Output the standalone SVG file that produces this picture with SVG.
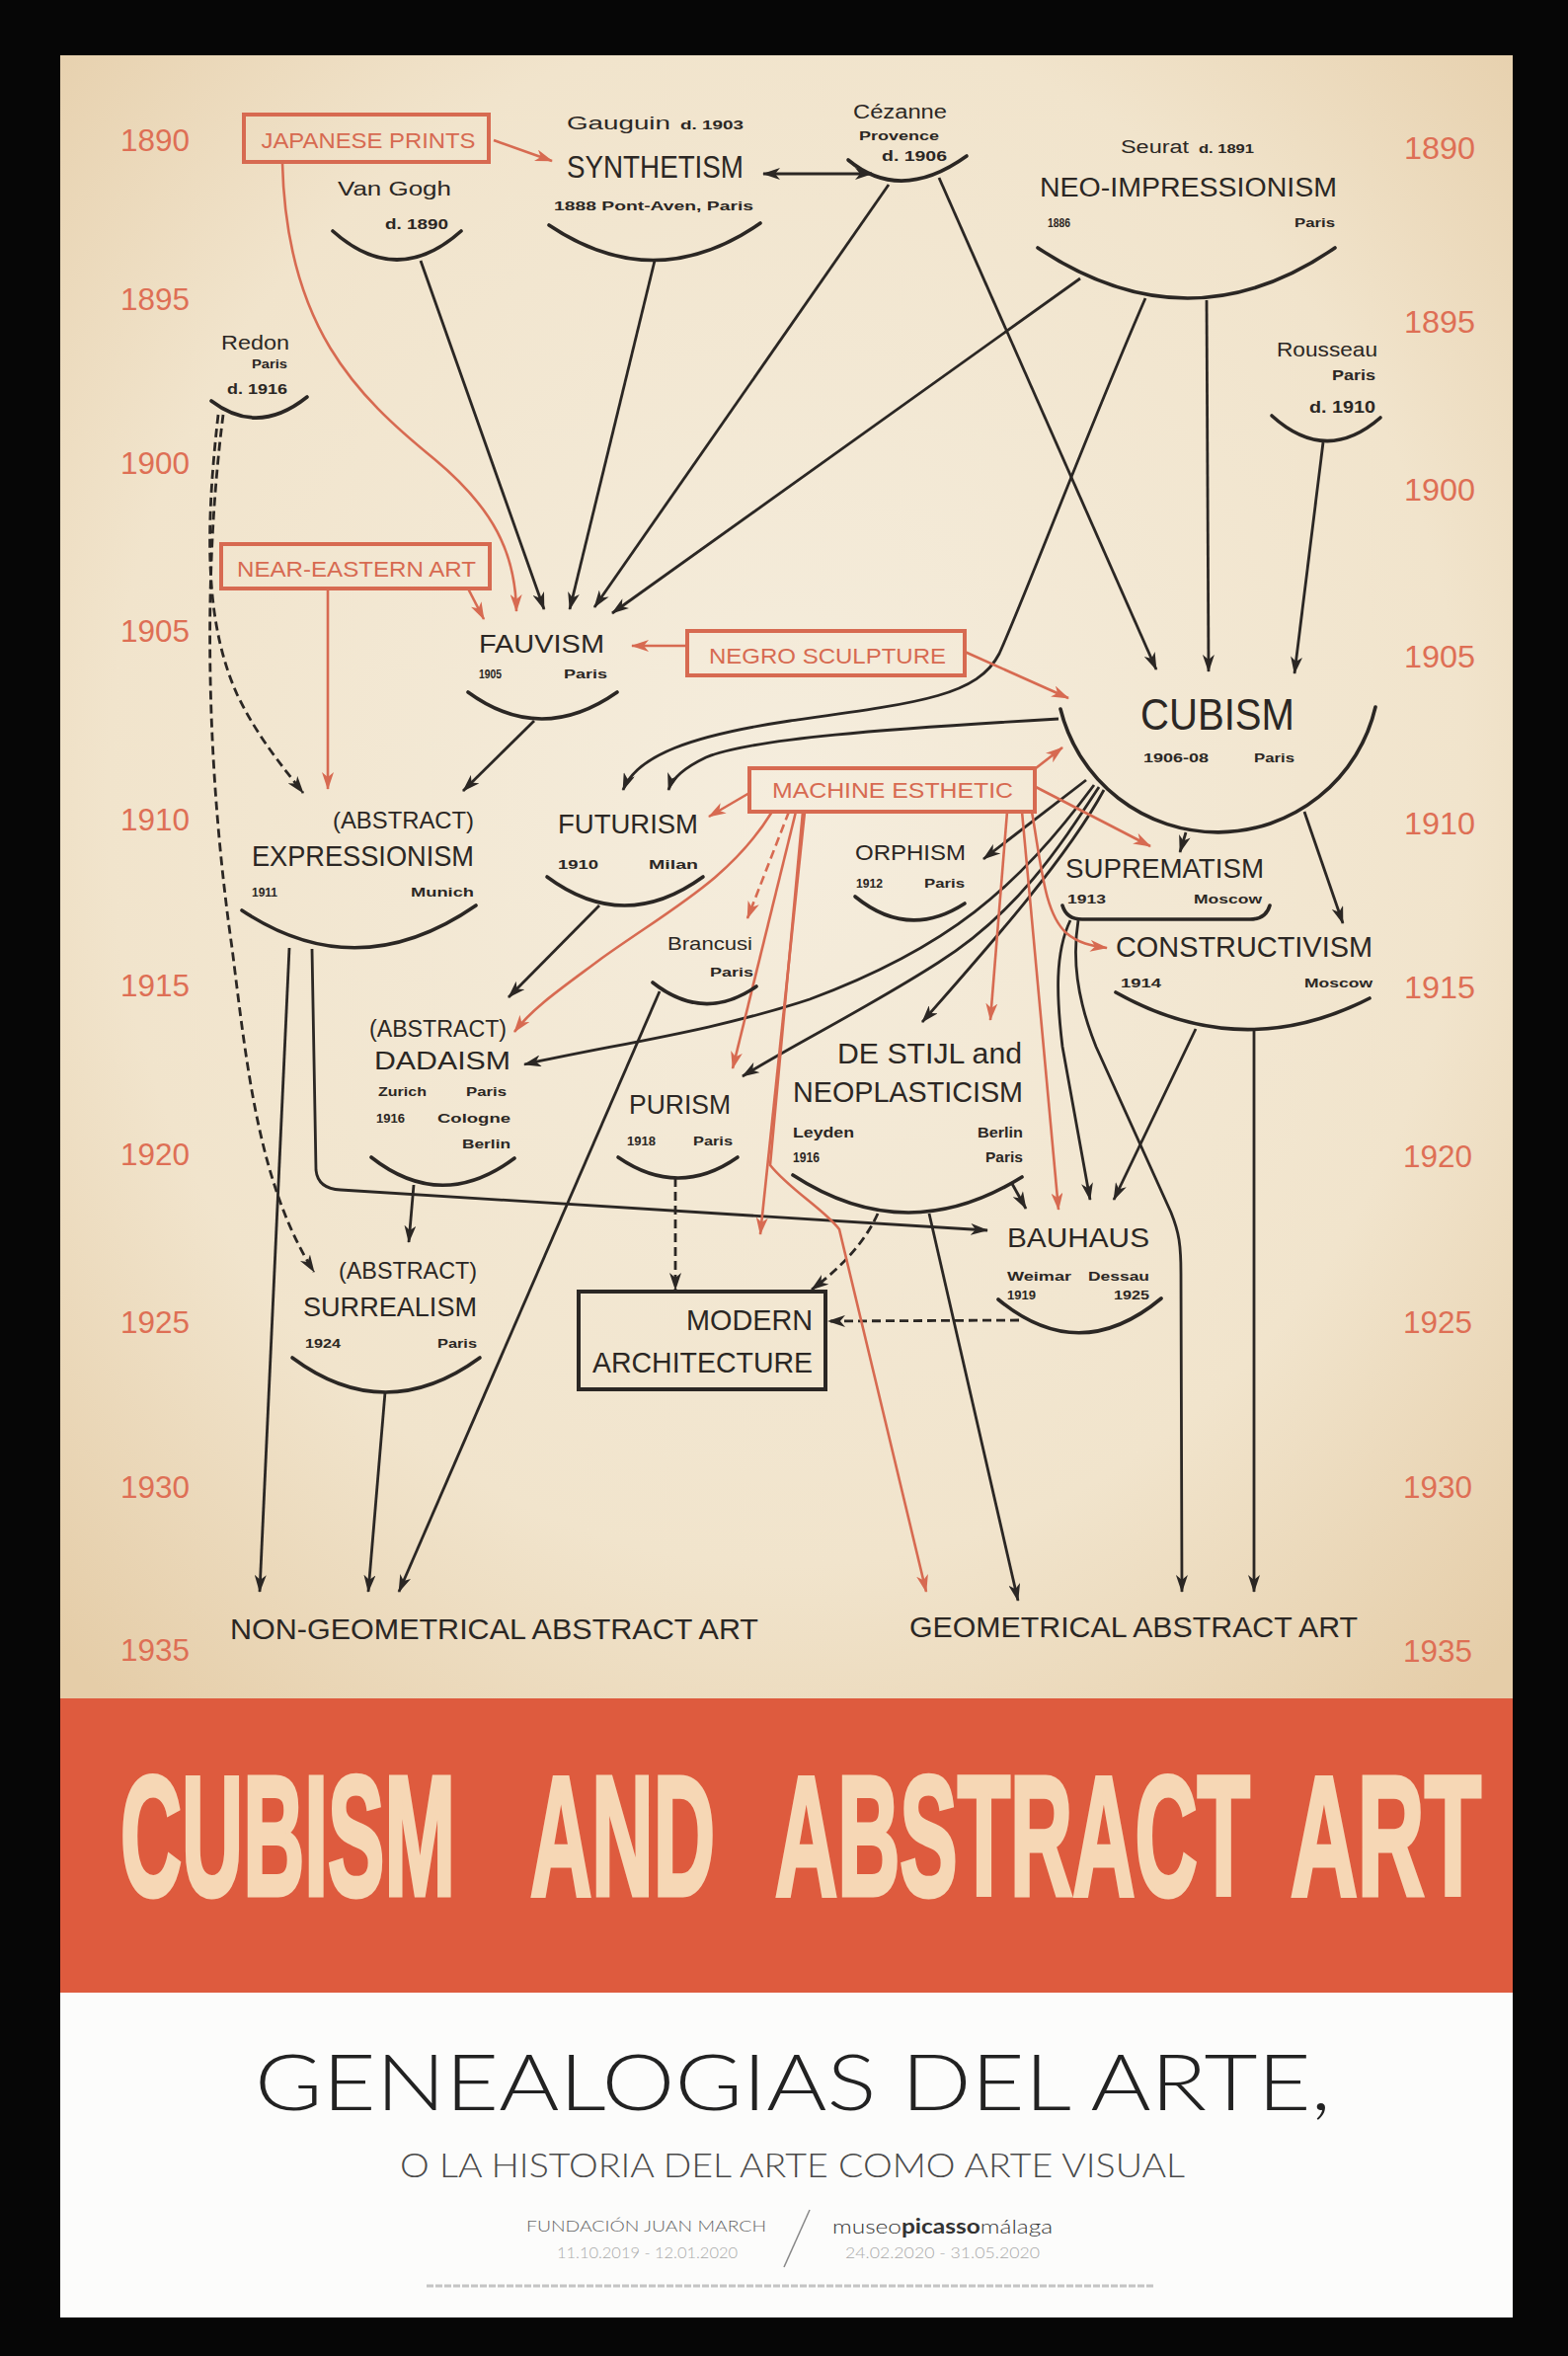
<svg xmlns="http://www.w3.org/2000/svg" width="1588" height="2386" viewBox="0 0 1588 2386">
<defs>
<radialGradient id="paper" cx="50%" cy="45%" r="72%">
<stop offset="0" stop-color="#f5eddd"/>
<stop offset="0.65" stop-color="#f1e4cc"/>
<stop offset="1" stop-color="#e5cda8"/>
</radialGradient>
<marker id="ab" viewBox="0 0 18 12" refX="17" refY="6" markerWidth="18" markerHeight="12" markerUnits="userSpaceOnUse" orient="auto-start-reverse"><path d="M0,0 L18,6 L0,12 L5,6 z" fill="#2b2724"/></marker>
<marker id="ar" viewBox="0 0 18 12" refX="17" refY="6" markerWidth="18" markerHeight="12" markerUnits="userSpaceOnUse" orient="auto-start-reverse"><path d="M0,0 L18,6 L0,12 L5,6 z" fill="#d76a51"/></marker>
</defs>
<style>
.ln{fill:none;stroke:#2b2724;stroke-width:2.8;marker-end:url(#ab)}
.rd{fill:none;stroke:#d76a51;stroke-width:2.6;marker-end:url(#ar)}
.dash{stroke-dasharray:9 5}
.arc{fill:none;stroke:#2b2724;stroke-width:3.6;stroke-linecap:round}
.t{font-family:"Liberation Sans",Arial,sans-serif;fill:#2b2724}
.s{font-family:"Liberation Sans",Arial,sans-serif;fill:#2b2724;font-weight:700}
.yr{font-family:"Liberation Sans",Arial,sans-serif;fill:#de6f55;font-size:32px;text-anchor:middle}
.rbox{fill:none;stroke:#d76a51;stroke-width:4}
.rt{font-family:"Liberation Sans",Arial,sans-serif;fill:#d76a51;font-size:22px;text-anchor:middle}
.ttl{font-family:"Liberation Sans",Arial,sans-serif;font-weight:700;font-size:86px;fill:#f6d7b5;stroke:#f6d7b5;stroke-width:2.5}
.sub{font-family:Lato,"Open Sans","Liberation Sans",sans-serif;font-weight:300}
</style>

<rect width="1588" height="2386" fill="#060606"/>
<rect x="61" y="56" width="1471" height="1666" fill="url(#paper)"/>
<rect x="61" y="1720" width="1471" height="298" fill="#de5b3e"/>
<rect x="61" y="2018" width="1471" height="329" fill="#fcfcfb"/>

<g id="years">
<text class="yr" x="157" y="153" textLength="70" lengthAdjust="spacingAndGlyphs">1890</text>
<text class="yr" x="157" y="314" textLength="70" lengthAdjust="spacingAndGlyphs">1895</text>
<text class="yr" x="157" y="480" textLength="70" lengthAdjust="spacingAndGlyphs">1900</text>
<text class="yr" x="157" y="650" textLength="70" lengthAdjust="spacingAndGlyphs">1905</text>
<text class="yr" x="157" y="841" textLength="70" lengthAdjust="spacingAndGlyphs">1910</text>
<text class="yr" x="157" y="1009" textLength="70" lengthAdjust="spacingAndGlyphs">1915</text>
<text class="yr" x="157" y="1180" textLength="70" lengthAdjust="spacingAndGlyphs">1920</text>
<text class="yr" x="157" y="1350" textLength="70" lengthAdjust="spacingAndGlyphs">1925</text>
<text class="yr" x="157" y="1517" textLength="70" lengthAdjust="spacingAndGlyphs">1930</text>
<text class="yr" x="157" y="1682" textLength="70" lengthAdjust="spacingAndGlyphs">1935</text>
<text class="yr" x="1458" y="161" textLength="72" lengthAdjust="spacingAndGlyphs">1890</text>
<text class="yr" x="1458" y="337" textLength="72" lengthAdjust="spacingAndGlyphs">1895</text>
<text class="yr" x="1458" y="507" textLength="72" lengthAdjust="spacingAndGlyphs">1900</text>
<text class="yr" x="1458" y="676" textLength="72" lengthAdjust="spacingAndGlyphs">1905</text>
<text class="yr" x="1458" y="845" textLength="72" lengthAdjust="spacingAndGlyphs">1910</text>
<text class="yr" x="1458" y="1011" textLength="72" lengthAdjust="spacingAndGlyphs">1915</text>
<text class="yr" x="1456" y="1182" textLength="70" lengthAdjust="spacingAndGlyphs">1920</text>
<text class="yr" x="1456" y="1350" textLength="70" lengthAdjust="spacingAndGlyphs">1925</text>
<text class="yr" x="1456" y="1517" textLength="70" lengthAdjust="spacingAndGlyphs">1930</text>
<text class="yr" x="1456" y="1683" textLength="70" lengthAdjust="spacingAndGlyphs">1935</text>
</g>

<g id="connectors">
<path class="ln" d="M426 264 L551 617"/>
<path class="ln" d="M663 264 L577 617"/>
<path class="ln" d="M900 187 L602 615"/>
<path class="ln" d="M1094 282 L620 621"/>
<path class="ln" d="M773 176 L883 176" style="marker-start:url(#ab)"/>
<path class="ln" d="M951 180 L1171 678"/>
<path class="ln" d="M1222 304 L1224 680"/>
<path class="ln" d="M1340 448 L1311 682"/>
<path class="ln" d="M1160 302 C1100 440 1040 600 1012 662 C990 705 930 712 800 730 C700 745 645 765 631 800"/>
<path class="ln" d="M1072 728 C900 738 760 748 715 767 C692 778 680 790 677 800"/>
<path class="ln" d="M541 730 L469 801"/>
<path class="ln" d="M607 917 L515 1010"/>
<path class="ln" d="M1100 790 L996 870"/>
<path class="ln" d="M1108 795 C1030 900 960 960 820 1012 C720 1045 620 1058 531 1078"/>
<path class="ln" d="M1113 797 C1075 855 1030 925 950 975 C880 1020 800 1060 752 1090"/>
<path class="ln" d="M1118 800 C1080 870 1000 960 934 1035"/>
<path class="ln" d="M1201 843 L1195 863"/>
<path class="ln" d="M1321 822 L1360 935"/>
<path class="ln" d="M1084 932 C1068 965 1070 1010 1076 1060 L1104 1215"/>
<path class="ln" d="M1092 932 C1086 970 1090 1010 1110 1060 L1186 1228 C1194 1248 1196 1260 1196 1290 L1197 1612"/>
<path class="ln" d="M1211 1042 L1128 1215"/>
<path class="ln" d="M1270 1044 L1270 1612"/>
<path class="ln" d="M293 960 L263 1612"/>
<path class="ln" d="M316 961 L320 1185 Q322 1204 345 1205 L1000 1246"/>
<path class="ln" d="M419 1200 L414 1258"/>
<path class="ln" d="M668 1004 L404 1612"/>
<path class="ln" d="M390 1410 L373 1612"/>
<path class="ln" d="M1024 1197 L1039 1224"/>
<path class="ln" d="M941 1229 L1031 1621"/>
<path class="ln dash" d="M684 1193 L684 1306"/>
<path class="ln dash" d="M889 1229 C875 1260 850 1285 822 1306"/>
<path class="ln dash" d="M1032 1337 L839 1338"/>
<path class="ln dash" d="M226 420 C203 600 212 800 235 960 C250 1080 262 1200 318 1288"/>
<path class="ln dash" d="M221 420 C205 560 212 640 240 703 C260 745 285 775 307 803"/>

<path class="rd" d="M500 142 L559 163"/>
<path class="rd" d="M286 165 C290 330 360 400 440 465 C500 515 522 560 523 619"/>
<path class="rd" d="M332 596 L332 799"/>
<path class="rd" d="M474 596 L490 627"/>
<path class="rd" d="M696 654 L640 654"/>
<path class="rd" d="M977 660 L1082 707"/>
<path class="rd" d="M1049 778 L1076 757"/>
<path class="rd" d="M759 803 L718 827"/>
<path class="rd" d="M782 822 C740 890 680 920 610 970 C570 1000 540 1020 521 1045"/>
<path class="rd dash" d="M799 822 L757 930"/>
<path class="rd" d="M806 822 L742 1082"/>
<path class="rd" d="M815 822 L770 1250"/>
<path class="rd" d="M813 822 L780 1180 C800 1205 835 1225 850 1245 L938 1612"/>
<path class="rd" d="M1020 822 L1003 1033"/>
<path class="rd" d="M1035 822 L1072 1225"/>
<path class="rd" d="M1045 822 C1055 880 1058 925 1080 945 C1092 955 1105 958 1121 960"/>
<path class="rd" d="M1049 797 L1165 857"/>
</g>

<g id="japanese-prints">
<rect class="rbox" x="247" y="116" width="248" height="48"/>
<text class="rt" x="373" y="150" textLength="217" lengthAdjust="spacingAndGlyphs">JAPANESE PRINTS</text>
</g>

<g id="synthetism">
<text class="t" x="574" y="131" font-size="19" textLength="105" lengthAdjust="spacingAndGlyphs">Gauguin</text>
<text class="s" x="689" y="131" font-size="13" textLength="64" lengthAdjust="spacingAndGlyphs">d. 1903</text>
<text class="t" x="574" y="180" font-size="31" textLength="179" lengthAdjust="spacingAndGlyphs">SYNTHETISM</text>
<text class="s" x="561" y="213" font-size="13" textLength="202" lengthAdjust="spacingAndGlyphs">1888  Pont-Aven, Paris</text>
<path class="arc" d="M556 228 Q663 300 770 226"/>
</g>

<g id="cezanne">
<text class="t" x="864" y="120" font-size="20" textLength="95" lengthAdjust="spacingAndGlyphs">Cézanne</text>
<text class="s" x="870" y="142" font-size="13" textLength="81" lengthAdjust="spacingAndGlyphs">Provence</text>
<text class="s" x="893" y="163" font-size="15" textLength="66" lengthAdjust="spacingAndGlyphs">d. 1906</text>
<path class="arc" d="M859 162 Q912 206 979 158"/>
</g>

<g id="neo-impressionism">
<text class="t" x="1135" y="155" font-size="18" textLength="69" lengthAdjust="spacingAndGlyphs">Seurat</text>
<text class="s" x="1214" y="155" font-size="13" textLength="56" lengthAdjust="spacingAndGlyphs">d. 1891</text>
<text class="t" x="1053" y="199" font-size="27" textLength="301" lengthAdjust="spacingAndGlyphs">NEO-IMPRESSIONISM</text>
<text class="s" x="1061" y="230" font-size="12" textLength="23" lengthAdjust="spacingAndGlyphs">1886</text>
<text class="s" x="1311" y="230" font-size="12" textLength="41" lengthAdjust="spacingAndGlyphs">Paris</text>
<path class="arc" d="M1051 251 Q1204 353 1352 251"/>
</g>

<g id="rousseau">
<text class="t" x="1293" y="361" font-size="21" textLength="102" lengthAdjust="spacingAndGlyphs">Rousseau</text>
<text class="s" x="1349" y="385" font-size="14" textLength="44" lengthAdjust="spacingAndGlyphs">Paris</text>
<text class="s" x="1326" y="418" font-size="16" textLength="67" lengthAdjust="spacingAndGlyphs">d. 1910</text>
<path class="arc" d="M1288 421 Q1343 471 1398 423"/>
</g>

<g id="van-gogh">
<text class="t" x="342" y="198" font-size="21" textLength="115" lengthAdjust="spacingAndGlyphs">Van Gogh</text>
<text class="s" x="390" y="232" font-size="15" textLength="64" lengthAdjust="spacingAndGlyphs">d. 1890</text>
<path class="arc" d="M337 234 Q402 292 467 234"/>
</g>

<g id="redon">
<text class="t" x="224" y="354" font-size="20" textLength="69" lengthAdjust="spacingAndGlyphs">Redon</text>
<text class="s" x="255" y="373" font-size="13" textLength="36" lengthAdjust="spacingAndGlyphs">Paris</text>
<text class="s" x="230" y="399" font-size="15" textLength="61" lengthAdjust="spacingAndGlyphs">d. 1916</text>
<path class="arc" d="M214 406 Q261 442 311 402"/>
</g>

<g id="near-eastern-art">
<rect class="rbox" x="224" y="551" width="272" height="45"/>
<text class="rt" x="361" y="584" textLength="242" lengthAdjust="spacingAndGlyphs">NEAR-EASTERN ART</text>
</g>

<g id="fauvism">
<text class="t" x="485" y="661" font-size="26" textLength="127" lengthAdjust="spacingAndGlyphs">FAUVISM</text>
<text class="s" x="485" y="687" font-size="12" textLength="23" lengthAdjust="spacingAndGlyphs">1905</text>
<text class="s" x="571" y="687" font-size="12" textLength="44" lengthAdjust="spacingAndGlyphs">Paris</text>
<path class="arc" d="M474 701 Q548 755 625 701"/>
</g>

<g id="negro-sculpture">
<rect class="rbox" x="696" y="639" width="281" height="45"/>
<text class="rt" x="838" y="672" textLength="240" lengthAdjust="spacingAndGlyphs">NEGRO SCULPTURE</text>
</g>

<g id="cubism">
<text class="t" x="1155" y="739" font-size="44" textLength="156" lengthAdjust="spacingAndGlyphs">CUBISM</text>
<text class="s" x="1158" y="772" font-size="13" textLength="66" lengthAdjust="spacingAndGlyphs">1906-08</text>
<text class="s" x="1270" y="772" font-size="13" textLength="41" lengthAdjust="spacingAndGlyphs">Paris</text>
<path class="arc" d="M1074 718 A164 164 0 0 0 1393 716"/>
</g>

<g id="expressionism">
<text class="t" x="337" y="839" font-size="24" textLength="143" lengthAdjust="spacingAndGlyphs">(ABSTRACT)</text>
<text class="t" x="255" y="877" font-size="29" textLength="225" lengthAdjust="spacingAndGlyphs">EXPRESSIONISM</text>
<text class="s" x="255" y="908" font-size="12" textLength="26" lengthAdjust="spacingAndGlyphs">1911</text>
<text class="s" x="416" y="908" font-size="13" textLength="64" lengthAdjust="spacingAndGlyphs">Munich</text>
<path class="arc" d="M245 922 Q362 1000 482 917"/>
</g>

<g id="futurism">
<text class="t" x="565" y="844" font-size="28" textLength="142" lengthAdjust="spacingAndGlyphs">FUTURISM</text>
<text class="s" x="565" y="880" font-size="13" textLength="41" lengthAdjust="spacingAndGlyphs">1910</text>
<text class="s" x="657" y="880" font-size="13" textLength="50" lengthAdjust="spacingAndGlyphs">Milan</text>
<path class="arc" d="M554 888 Q632 946 712 888"/>
</g>

<g id="machine-esthetic">
<rect class="rbox" x="759" y="778" width="289" height="44"/>
<text class="rt" x="904" y="808" textLength="244" lengthAdjust="spacingAndGlyphs">MACHINE ESTHETIC</text>
</g>

<g id="orphism">
<text class="t" x="866" y="871" font-size="22" textLength="112" lengthAdjust="spacingAndGlyphs">ORPHISM</text>
<text class="s" x="867" y="899" font-size="12" textLength="27" lengthAdjust="spacingAndGlyphs">1912</text>
<text class="s" x="936" y="899" font-size="12" textLength="41" lengthAdjust="spacingAndGlyphs">Paris</text>
<path class="arc" d="M866 908 Q920 952 977 915"/>
</g>

<g id="suprematism">
<text class="t" x="1079" y="889" font-size="28" textLength="201" lengthAdjust="spacingAndGlyphs">SUPREMATISM</text>
<text class="s" x="1081" y="915" font-size="12" textLength="39" lengthAdjust="spacingAndGlyphs">1913</text>
<text class="s" x="1209" y="915" font-size="12" textLength="69" lengthAdjust="spacingAndGlyphs">Moscow</text>
<path class="arc" d="M1076 917 Q1080 931 1096 931 L1266 931 Q1282 931 1286 917"/>
</g>

<g id="constructivism">
<text class="t" x="1130" y="969" font-size="29" textLength="260" lengthAdjust="spacingAndGlyphs">CONSTRUCTIVISM</text>
<text class="s" x="1135" y="1000" font-size="12" textLength="41" lengthAdjust="spacingAndGlyphs">1914</text>
<text class="s" x="1321" y="1000" font-size="12" textLength="69" lengthAdjust="spacingAndGlyphs">Moscow</text>
<path class="arc" d="M1130 1005 Q1258 1077 1387 1011"/>
</g>

<g id="brancusi">
<text class="t" x="676" y="962" font-size="19" textLength="86" lengthAdjust="spacingAndGlyphs">Brancusi</text>
<text class="s" x="719" y="989" font-size="13" textLength="44" lengthAdjust="spacingAndGlyphs">Paris</text>
<path class="arc" d="M661 995 Q713 1036 766 999"/>
</g>

<g id="dadaism">
<text class="t" x="374" y="1050" font-size="23" textLength="139" lengthAdjust="spacingAndGlyphs">(ABSTRACT)</text>
<text class="t" x="379" y="1083" font-size="26" textLength="138" lengthAdjust="spacingAndGlyphs">DADAISM</text>
<text class="s" x="383" y="1110" font-size="13" textLength="49" lengthAdjust="spacingAndGlyphs">Zurich</text>
<text class="s" x="472" y="1110" font-size="13" textLength="41" lengthAdjust="spacingAndGlyphs">Paris</text>
<text class="s" x="381" y="1137" font-size="13" textLength="29" lengthAdjust="spacingAndGlyphs">1916</text>
<text class="s" x="443" y="1137" font-size="13" textLength="74" lengthAdjust="spacingAndGlyphs">Cologne</text>
<text class="s" x="468" y="1163" font-size="13" textLength="49" lengthAdjust="spacingAndGlyphs">Berlin</text>
<path class="arc" d="M376 1172 Q447 1228 521 1173"/>
</g>

<g id="purism">
<text class="t" x="637" y="1128" font-size="27" textLength="103" lengthAdjust="spacingAndGlyphs">PURISM</text>
<text class="s" x="635" y="1160" font-size="12" textLength="29" lengthAdjust="spacingAndGlyphs">1918</text>
<text class="s" x="702" y="1160" font-size="12" textLength="40" lengthAdjust="spacingAndGlyphs">Paris</text>
<path class="arc" d="M626 1172 Q687 1214 747 1172"/>
</g>

<g id="de-stijl">
<text class="t" x="848" y="1077" font-size="30" textLength="187" lengthAdjust="spacingAndGlyphs">DE STIJL and</text>
<text class="t" x="803" y="1116" font-size="30" textLength="233" lengthAdjust="spacingAndGlyphs">NEOPLASTICISM</text>
<text class="s" x="803" y="1152" font-size="14" textLength="62" lengthAdjust="spacingAndGlyphs">Leyden</text>
<text class="s" x="803" y="1177" font-size="14" textLength="27" lengthAdjust="spacingAndGlyphs">1916</text>
<text class="s" x="990" y="1152" font-size="14" textLength="46" lengthAdjust="spacingAndGlyphs">Berlin</text>
<text class="s" x="998" y="1177" font-size="14" textLength="38" lengthAdjust="spacingAndGlyphs">Paris</text>
<path class="arc" d="M803 1190 Q918 1265 1035 1192"/>
</g>

<g id="bauhaus">
<text class="t" x="1020" y="1263" font-size="27" textLength="144" lengthAdjust="spacingAndGlyphs">BAUHAUS</text>
<text class="s" x="1020" y="1297" font-size="13" textLength="65" lengthAdjust="spacingAndGlyphs">Weimar</text>
<text class="s" x="1102" y="1297" font-size="13" textLength="62" lengthAdjust="spacingAndGlyphs">Dessau</text>
<text class="s" x="1020" y="1316" font-size="13" textLength="29" lengthAdjust="spacingAndGlyphs">1919</text>
<text class="s" x="1128" y="1316" font-size="13" textLength="36" lengthAdjust="spacingAndGlyphs">1925</text>
<path class="arc" d="M1011 1316 Q1093 1384 1176 1315"/>
</g>

<g id="surrealism">
<text class="t" x="343" y="1295" font-size="24" textLength="140" lengthAdjust="spacingAndGlyphs">(ABSTRACT)</text>
<text class="t" x="307" y="1333" font-size="28" textLength="176" lengthAdjust="spacingAndGlyphs">SURREALISM</text>
<text class="s" x="309" y="1365" font-size="13" textLength="36" lengthAdjust="spacingAndGlyphs">1924</text>
<text class="s" x="443" y="1365" font-size="13" textLength="40" lengthAdjust="spacingAndGlyphs">Paris</text>
<path class="arc" d="M296 1375 Q390 1445 486 1375"/>
</g>

<g id="modern-architecture">
<rect x="586" y="1308" width="250" height="99" fill="none" stroke="#2b2724" stroke-width="4"/>
<text class="t" x="695" y="1347" font-size="29" textLength="128" lengthAdjust="spacingAndGlyphs">MODERN</text>
<text class="t" x="600" y="1390" font-size="30" textLength="223" lengthAdjust="spacingAndGlyphs">ARCHITECTURE</text>
</g>

<g id="non-geometrical-abstract-art">
<text class="t" x="233" y="1660" font-size="30" textLength="535" lengthAdjust="spacingAndGlyphs">NON-GEOMETRICAL ABSTRACT ART</text>
</g>

<g id="geometrical-abstract-art">
<text class="t" x="921" y="1658" font-size="30" textLength="454" lengthAdjust="spacingAndGlyphs">GEOMETRICAL ABSTRACT ART</text>
</g>

<g id="title">
<text class="ttl" transform="translate(122 1919) scale(1 2)" x="0" y="0" textLength="339" lengthAdjust="spacingAndGlyphs">CUBISM</text>
<text class="ttl" transform="translate(537 1919) scale(1 2)" x="0" y="0" textLength="187" lengthAdjust="spacingAndGlyphs">AND</text>
<text class="ttl" transform="translate(785 1919) scale(1 2)" x="0" y="0" textLength="481" lengthAdjust="spacingAndGlyphs">ABSTRACT</text>
<text class="ttl" transform="translate(1307 1919) scale(1 2)" x="0" y="0" textLength="193" lengthAdjust="spacingAndGlyphs">ART</text>
</g>

<g id="footer">
<text class="sub" x="258" y="2137" font-size="78" fill="#222" textLength="1090" lengthAdjust="spacingAndGlyphs">GENEALOGIAS DEL ARTE,</text>
<text class="sub" x="405" y="2205" font-size="33" fill="#4a4a4a" textLength="795" lengthAdjust="spacingAndGlyphs">O LA HISTORIA DEL ARTE COMO ARTE VISUAL</text>
<text class="sub" x="533" y="2260" font-size="16" fill="#666" textLength="243" lengthAdjust="spacingAndGlyphs">FUNDACIÓN JUAN MARCH</text>
<text class="sub" x="564" y="2287" font-size="16" fill="#aaa" textLength="183" lengthAdjust="spacingAndGlyphs">11.10.2019 - 12.01.2020</text>
<path d="M820 2238 L794 2296" stroke="#888" stroke-width="1.5" fill="none"/>
<text x="843" y="2262" font-family="Lato,'Open Sans','Liberation Sans',sans-serif" font-size="20" fill="#333" textLength="223" lengthAdjust="spacingAndGlyphs"><tspan font-weight="300">museo</tspan><tspan font-weight="700">picasso</tspan><tspan font-weight="300">málaga</tspan></text>
<text class="sub" x="856" y="2287" font-size="16" fill="#aaa" textLength="197" lengthAdjust="spacingAndGlyphs">24.02.2020 - 31.05.2020</text>
<path d="M432 2315 L1168 2315" stroke="#c4c4c4" stroke-width="3" stroke-dasharray="7 2" fill="none"/>
</g>
</svg>
